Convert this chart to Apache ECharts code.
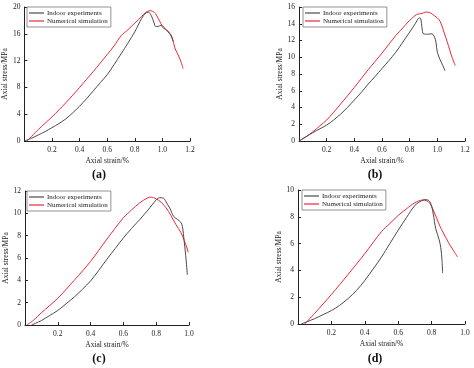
<!DOCTYPE html>
<html>
<head>
<meta charset="utf-8">
<script src="https://cdn.jsdelivr.net/npm/echarts@6/dist/echarts.min.js"></script>
<style>html,body{margin:0;padding:0;background:#fff}#c{width:474px;height:368px}</style>
</head>
<body>
<div id="c"></div>
<script>
var seriesNames = ['Indoor experiments', 'Numerical simulation'];
var panelLabels = ['(a)', '(b)', '(c)', '(d)'];
var xMaxes = [1.2, 1.2, 1.0, 1.0];
var yMaxes = [20, 16, 12, 10];
var yIntervals = [4, 2, 2, 2];

var expA = [[0,0],[0.05,0.4],[0.1,0.9],[0.15,1.4],[0.2,2.0],[0.25,2.6],[0.3,3.3],[0.35,4.2],[0.4,5.2],[0.45,6.3],[0.5,7.5],[0.55,8.7],[0.6,9.9],[0.65,11.4],[0.7,13.0],[0.75,14.6],[0.8,16.3],[0.85,18.3],[0.88,19.1],[0.9,19.2],[0.92,18.7],[0.94,17.6],[0.95,17.1],[0.97,17.1],[0.99,17.3],[1.0,17.0],[1.02,16.7],[1.04,16.3],[1.06,15.8],[1.08,14.8]];
var simA = [[0.02,0],[0.1,1.7],[0.2,3.6],[0.3,5.7],[0.4,8.0],[0.5,10.4],[0.6,12.9],[0.65,14.2],[0.7,15.7],[0.75,16.6],[0.8,17.6],[0.85,18.6],[0.88,19.2],[0.91,19.45],[0.93,19.35],[0.95,19.0],[0.97,18.3],[0.99,17.5],[1.01,17.0],[1.03,16.6],[1.05,16.2],[1.07,15.5],[1.09,13.9],[1.11,13.0],[1.13,12.1],[1.15,10.8]];
var expB = [[0,0],[0.05,0.5],[0.1,1.0],[0.15,1.45],[0.2,1.9],[0.25,2.5],[0.3,3.2],[0.35,4.0],[0.4,4.9],[0.45,5.8],[0.5,6.8],[0.55,7.7],[0.6,8.65],[0.65,9.6],[0.7,10.6],[0.75,11.8],[0.8,13.0],[0.84,14.0],[0.87,14.7],[0.88,14.6],[0.89,13.4],[0.9,12.8],[0.93,12.75],[0.96,12.8],[0.98,12.4],[0.99,11.8],[1.0,10.6],[1.02,9.7],[1.04,9.0],[1.055,8.4]];
var simB = [[0,0],[0.05,0.5],[0.1,1.1],[0.15,1.8],[0.2,2.5],[0.3,4.4],[0.4,6.4],[0.5,8.5],[0.6,10.5],[0.7,12.6],[0.75,13.5],[0.8,14.4],[0.85,15.1],[0.88,15.2],[0.9,15.3],[0.92,15.4],[0.95,15.3],[0.98,14.95],[1.0,14.7],[1.02,14.3],[1.04,13.4],[1.06,12.4],[1.08,11.4],[1.1,10.3],[1.12,9.4],[1.13,9.0]];
var expC = [[0.04,0],[0.1,0.4],[0.15,0.85],[0.2,1.3],[0.25,1.9],[0.3,2.5],[0.35,3.2],[0.4,3.95],[0.45,4.9],[0.5,5.9],[0.55,6.85],[0.6,7.8],[0.65,8.65],[0.7,9.45],[0.75,10.3],[0.8,11.2],[0.82,11.4],[0.845,11.35],[0.865,10.9],[0.885,10.4],[0.905,9.75],[0.93,9.45],[0.95,9.2],[0.96,8.8],[0.97,7.6],[0.98,6.2],[0.99,4.5]];
var simC = [[0.01,0],[0.05,0.4],[0.1,1.1],[0.2,2.4],[0.3,4.0],[0.4,5.7],[0.5,7.7],[0.6,9.6],[0.65,10.3],[0.7,10.95],[0.75,11.4],[0.77,11.45],[0.8,11.3],[0.83,11.0],[0.86,10.5],[0.89,9.8],[0.92,9.0],[0.95,8.3],[0.97,7.6],[0.99,6.8],[0.995,6.5]];
var expD = [[0.02,0],[0.05,0.15],[0.1,0.4],[0.15,0.7],[0.2,1.0],[0.25,1.4],[0.3,1.9],[0.35,2.5],[0.4,3.25],[0.45,4.1],[0.5,5.0],[0.55,6.0],[0.6,7.0],[0.65,7.95],[0.7,8.85],[0.74,9.2],[0.76,9.28],[0.785,9.2],[0.8,8.8],[0.81,8.2],[0.825,7.1],[0.845,6.3],[0.855,5.7],[0.862,4.8],[0.866,3.8]];
var simD = [[0.04,0],[0.1,0.8],[0.2,2.2],[0.3,3.7],[0.4,5.25],[0.5,6.9],[0.55,7.5],[0.6,8.1],[0.65,8.6],[0.7,9.05],[0.745,9.25],[0.77,9.2],[0.79,9.0],[0.81,8.5],[0.83,7.9],[0.85,7.3],[0.87,6.8],[0.9,6.1],[0.93,5.5],[0.955,5.0]];

var expData = [expA, expB, expC, expD];
var simData = [simA, simB, simC, simD];

var FONT = "'Liberation Serif', 'Times New Roman', serif";
var GRAY = '#4a4a4a', RED = '#e8283a';
var grids = [
  {left: 24, top: 7, width: 166, height: 134},
  {left: 299, top: 7, width: 166, height: 134},
  {left: 25, top: 191, width: 164, height: 134},
  {left: 298, top: 190, width: 167, height: 134}
];
var legendPos = [[27, 7], [303, 7], [27, 191], [302, 190]];
var labelPos = [[99, 175], [375, 175], [99, 359], [375, 359]];

var xAxes = [], yAxes = [], series = [], legends = [], graphics = [];
for (var i = 0; i < 4; i++) {
  xAxes.push({
    gridIndex: i, type: 'value', min: 0, max: xMaxes[i], interval: 0.2,
    name: 'Axial strain/%', nameLocation: 'middle', nameGap: 16,
    nameTextStyle: {fontFamily: FONT, fontSize: 7.5, color: '#222'},
    axisLine: {show: true, onZero: false, lineStyle: {color: '#222', width: 1}},
    axisTick: {show: true, inside: true, length: 3, lineStyle: {color: '#222'}},
    axisLabel: {fontFamily: FONT, fontSize: 7.5, color: '#222', margin: 5,
      formatter: function (v) { return v === 0 ? '' : v.toFixed(1); }},
    splitLine: {show: false}
  });
  yAxes.push({
    gridIndex: i, type: 'value', min: 0, max: yMaxes[i], interval: yIntervals[i],
    name: 'Axial stress/MPa', nameLocation: 'middle', nameGap: 12,
    nameTextStyle: {fontFamily: FONT, fontSize: 7.5, color: '#222'},
    axisLine: {show: true, lineStyle: {color: '#222', width: 1}},
    axisTick: {show: true, inside: true, length: 3, lineStyle: {color: '#222'}},
    axisLabel: {fontFamily: FONT, fontSize: 7.5, color: '#222', margin: 4},
    splitLine: {show: false}
  });
  series.push({
    name: seriesNames[0], type: 'line', xAxisIndex: i, yAxisIndex: i,
    data: expData[i], symbol: 'none', smooth: 0.3, z: 3,
    lineStyle: {color: GRAY, width: 1}, itemStyle: {color: GRAY}
  });
  series.push({
    name: seriesNames[1], type: 'line', xAxisIndex: i, yAxisIndex: i,
    data: simData[i], symbol: 'none', smooth: 0.3, z: 2,
    lineStyle: {color: RED, width: 1}, itemStyle: {color: RED}
  });
  legends.push({
    data: [{name: seriesNames[0], icon: 'rect', itemStyle: {color: GRAY}},
           {name: seriesNames[1], icon: 'rect', itemStyle: {color: RED}}],
    orient: 'vertical', left: legendPos[i][0], top: legendPos[i][1],
    itemWidth: 15, itemHeight: 1.2, itemGap: 0, padding: [2, 3, 2, 2],
    borderColor: '#777', borderWidth: 0.8, backgroundColor: '#fff',
    textStyle: {fontFamily: FONT, fontSize: 7, color: '#222', lineHeight: 8, padding: [0, 0, 0, -2]},
    selectedMode: false
  });
  graphics.push({
    type: 'text', x: labelPos[i][0], y: labelPos[i][1],
    style: {text: panelLabels[i], font: 'bold 12px ' + FONT, fill: '#111', textAlign: 'center', textVerticalAlign: 'middle'}
  });
}

var chart = echarts.init(document.getElementById('c'), null, {renderer: 'canvas'});
chart.setOption({
  animation: false,
  backgroundColor: '#fff',
  grid: grids,
  xAxis: xAxes,
  yAxis: yAxes,
  legend: legends,
  series: series,
  graphic: graphics
});
</script>
</body>
</html>
